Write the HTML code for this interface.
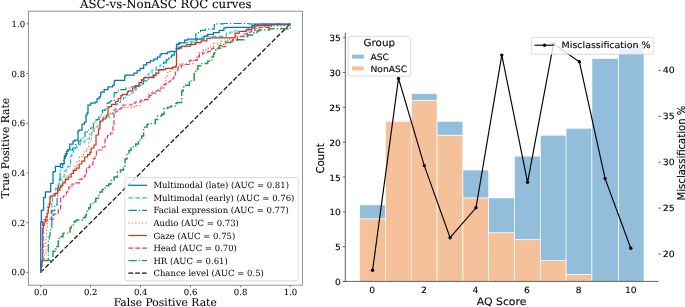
<!DOCTYPE html>
<html><head><meta charset="utf-8"><title>ROC curves</title>
<style>html,body{margin:0;padding:0;background:#fff;overflow:hidden}body{width:685px;height:307px;position:relative}</style>
</head><body>
<svg width="685" height="307" viewBox="0 0 685 307" style="position:absolute;left:0;top:0" text-rendering="geometricPrecision">
<rect width="685" height="307" fill="#fff"/>
<g font-family="'DejaVu Serif','Liberation Serif',serif" fill="#000" stroke="#000" stroke-width="0.06">
<text x="165.7" y="8.4" font-size="11.8" text-anchor="middle">ASC-vs-NonASC ROC curves</text>
<text x="165.2" y="306.1" font-size="10.75" text-anchor="middle">False Positive Rate</text>
<text transform="translate(8.5,148) rotate(-90)" font-size="10.75" text-anchor="middle">True Positive Rate</text>
<text x="40.8" y="294.9" font-size="8.5" text-anchor="middle">0.0</text>
<text x="25.1" y="275.4" font-size="8.5" text-anchor="end">0.0</text>
<path d="M40.6 285.2 v2 M28.4 272.4 h-2" stroke="#333" stroke-width="0.7"/>
<text x="90.7" y="294.9" font-size="8.5" text-anchor="middle">0.2</text>
<text x="25.1" y="225.7" font-size="8.5" text-anchor="end">0.2</text>
<path d="M90.5 285.2 v2 M28.4 222.7 h-2" stroke="#333" stroke-width="0.7"/>
<text x="140.7" y="294.9" font-size="8.5" text-anchor="middle">0.4</text>
<text x="25.1" y="176.0" font-size="8.5" text-anchor="end">0.4</text>
<path d="M140.5 285.2 v2 M28.4 173.0 h-2" stroke="#333" stroke-width="0.7"/>
<text x="190.6" y="294.9" font-size="8.5" text-anchor="middle">0.6</text>
<text x="25.1" y="126.3" font-size="8.5" text-anchor="end">0.6</text>
<path d="M190.4 285.2 v2 M28.4 123.2 h-2" stroke="#333" stroke-width="0.7"/>
<text x="240.6" y="294.9" font-size="8.5" text-anchor="middle">0.8</text>
<text x="25.1" y="76.6" font-size="8.5" text-anchor="end">0.8</text>
<path d="M240.4 285.2 v2 M28.4 73.5 h-2" stroke="#333" stroke-width="0.7"/>
<text x="290.5" y="294.9" font-size="8.5" text-anchor="middle">1.0</text>
<text x="25.1" y="26.9" font-size="8.5" text-anchor="end">1.0</text>
<path d="M290.3 285.2 v2 M28.4 23.8 h-2" stroke="#333" stroke-width="0.7"/>
</g>
<g fill="none" stroke-linejoin="miter">
<path d="M40.6 272.4 L290.3 23.8" stroke="#111" stroke-width="1.25" stroke-dasharray="4.7 2.1"/>
<path d="M40.7 272.4 L40.7 266.0 L41.5 266.0 L42.2 266.0 L42.2 260.0 L43.0 260.0 L43.0 250.0 L43.6 250.0 L43.6 221.0 L43.6 219.8 L46.0 219.8 L46.0 219.4 L51.2 219.4 L51.2 210.0 L51.8 210.0 L51.8 201.2 L52.4 201.2 L52.4 195.4 L53.9 195.4 L53.9 194.2 L55.4 194.2 L55.4 189.5 L55.4 188.3 L57.7 188.3 L58.4 188.3 L58.4 185.0 L59.0 185.0 L59.8 185.0 L59.8 179.0 L60.5 179.0 L62.4 179.0 L62.4 177.0 L64.2 177.0 L64.2 171.1 L64.7 171.1 L66.2 171.1 L66.2 167.6 L67.7 167.6 L67.7 166.4 L70.6 166.4 L70.6 155.9 L71.2 155.9 L71.8 155.9 L71.8 153.5 L72.4 153.5 L73.2 153.5 L73.2 150.0 L74.1 150.0 L74.1 148.0 L75.0 148.0 L76.8 148.0 L76.8 145.0 L78.5 145.0 L80.2 145.0 L80.2 142.0 L82.0 142.0 L85.0 142.0 L85.0 139.0 L88.0 139.0 L89.5 139.0 L89.5 134.0 L91.0 134.0 L92.0 134.0 L92.0 131.5 L93.0 131.5 L94.0 131.5 L94.0 129.0 L95.0 129.0 L96.0 129.0 L96.0 127.0 L97.0 127.0 L98.0 127.0 L98.0 125.0 L99.0 125.0 L100.0 125.0 L100.0 122.0 L101.0 122.0 L102.5 122.0 L102.5 119.5 L104.0 119.5 L105.5 119.5 L105.5 117.0 L107.0 117.0 L109.5 117.0 L109.5 114.0 L112.0 114.0 L113.0 114.0 L113.0 110.0 L114.0 110.0 L115.0 110.0 L115.0 105.0 L116.0 105.0 L117.5 105.0 L117.5 102.5 L119.0 102.5 L120.5 102.5 L120.5 100.0 L122.0 100.0 L123.5 100.0 L123.5 97.5 L125.0 97.5 L126.5 97.5 L126.5 95.0 L128.0 95.0 L130.0 95.0 L130.0 93.0 L132.0 93.0 L133.4 93.0 L133.4 89.8 L134.8 89.8 L136.2 89.8 L136.2 86.6 L137.6 86.6 L139.0 86.6 L139.0 83.4 L140.4 83.4 L141.8 83.4 L141.8 80.2 L143.2 80.2 L144.6 80.2 L144.6 77.0 L146.0 77.0 L147.0 77.0 L147.0 75.0 L148.0 75.0 L149.0 75.0 L149.0 73.0 L150.0 73.0 L152.0 73.0 L152.0 70.0 L154.0 70.0 L156.0 70.0 L156.0 67.0 L158.0 67.0 L160.0 67.0 L160.0 65.0 L162.0 65.0 L163.5 65.0 L163.5 62.0 L165.0 62.0 L166.3 62.0 L166.3 59.7 L167.7 59.7 L169.0 59.7 L169.0 57.3 L170.3 57.3 L171.7 57.3 L171.7 55.0 L173.0 55.0 L174.0 55.0 L174.0 52.0 L175.0 52.0 L176.0 52.0 L176.0 49.0 L177.0 49.0 L178.0 49.0 L178.0 43.5 L179.0 43.5 L179.0 42.5 L185.0 42.5 L190.0 42.5 L190.0 41.3 L195.0 41.3 L197.0 41.3 L197.0 38.5 L199.0 38.5 L202.0 38.5 L202.0 37.0 L205.0 37.0 L205.0 36.3 L226.3 36.3 L226.3 33.2 L227.5 33.2 L230.4 33.2 L230.4 32.0 L233.3 32.0 L233.3 31.0 L245.0 31.0 L248.0 31.0 L248.0 28.2 L251.0 28.2 L254.0 28.2 L254.0 26.2 L257.0 26.2 L257.0 25.0 L269.0 25.0 L269.0 24.0 L290.5 24.0" stroke="#33BBEE" stroke-width="1.2" stroke-dasharray="4.8 2.1"/>
<path d="M40.7 272.4 L40.7 260.5 L40.9 260.5 L48.3 260.5 L48.3 240.2 L49.2 240.2 L49.2 236.0 L50.1 236.0 L50.1 230.2 L50.7 230.2 L50.7 229.0 L51.8 229.0 L51.8 221.8 L51.8 211.2 L52.4 211.2 L52.4 210.6 L54.8 210.6 L54.8 206.0 L55.4 206.0 L55.4 204.8 L57.1 204.8 L57.1 196.6 L57.7 196.6 L57.7 188.3 L58.3 188.3 L58.3 185.2 L58.9 185.2 L58.9 180.5 L60.0 180.5 L60.0 173.5 L60.6 173.5 L60.6 167.6 L61.8 167.6 L62.7 167.6 L62.7 164.0 L63.6 164.0 L63.6 160.6 L64.2 160.6 L65.3 160.6 L65.3 153.5 L66.5 153.5 L67.4 153.5 L67.4 151.2 L68.3 151.2 L68.3 150.0 L71.2 150.0 L72.6 150.0 L72.6 148.0 L74.0 148.0 L75.5 148.0 L75.5 144.5 L77.0 144.5 L78.5 144.5 L78.5 141.0 L80.0 141.0 L81.0 141.0 L81.0 139.0 L82.0 139.0 L83.0 139.0 L83.0 137.0 L84.0 137.0 L85.0 137.0 L85.0 132.0 L86.0 132.0 L87.5 132.0 L87.5 130.0 L89.0 130.0 L90.5 130.0 L90.5 128.0 L92.0 128.0 L93.5 128.0 L93.5 122.0 L95.0 122.0 L96.2 122.0 L96.2 119.5 L97.5 119.5 L98.8 119.5 L98.8 117.0 L100.0 117.0 L101.2 117.0 L101.2 113.8 L102.4 113.8 L102.4 110.3 L103.6 110.3 L105.0 110.3 L105.0 109.1 L106.5 109.1 L107.1 109.1 L107.1 103.2 L107.7 103.2 L109.2 103.2 L109.2 102.0 L110.6 102.0 L110.6 100.9 L114.2 100.9 L114.2 93.2 L114.7 93.2 L114.7 92.7 L118.3 92.7 L118.3 89.7 L118.8 89.7 L124.7 89.7 L125.9 89.7 L125.9 88.0 L127.1 88.0 L130.0 88.0 L130.0 86.8 L132.9 86.8 L135.2 86.8 L135.2 85.6 L137.6 85.6 L140.6 85.6 L140.6 83.9 L143.5 83.9 L143.5 80.9 L144.7 80.9 L147.0 80.9 L147.0 79.2 L149.3 79.2 L149.3 77.0 L150.0 77.0 L153.0 77.0 L153.0 75.0 L156.0 75.0 L156.0 71.0 L156.0 70.0 L162.0 70.0 L163.5 70.0 L163.5 63.0 L165.0 63.0 L166.2 63.0 L166.2 60.1 L167.5 60.1 L168.8 60.1 L168.8 57.3 L170.0 57.3 L171.5 57.3 L171.5 55.2 L172.9 55.2 L174.4 55.2 L174.4 53.2 L175.9 53.2 L175.9 48.5 L177.0 48.5 L181.1 48.5 L181.1 46.7 L185.2 46.7 L186.4 46.7 L186.4 44.4 L187.6 44.4 L191.7 44.4 L191.7 42.6 L195.8 42.6 L195.8 33.8 L196.4 33.8 L198.4 33.8 L198.4 31.5 L200.5 31.5 L200.5 30.3 L205.2 30.3 L205.2 29.1 L213.4 29.1 L214.3 29.1 L214.3 24.6 L215.2 24.6 L215.2 23.8 L223.0 23.8 L223.0 23.5 L249.0 23.5 L249.0 24.0 L290.5 24.0" stroke="#009988" stroke-width="1.2" stroke-dasharray="8.3 2.1 1.3 2.1"/>
<path d="M40.7 272.4 L42.2 272.4 L42.2 259.0 L43.7 259.0 L44.5 259.0 L44.5 253.7 L45.4 253.7 L46.0 253.7 L46.0 239.6 L46.6 239.6 L46.6 227.9 L47.1 227.9 L47.1 222.0 L47.5 222.0 L47.5 213.0 L47.5 206.0 L48.2 206.0 L48.2 202.0 L49.4 202.0 L49.4 196.3 L50.0 196.3 L50.0 195.2 L53.0 195.2 L54.5 195.2 L54.5 192.8 L56.0 192.8 L57.1 192.8 L57.1 189.3 L58.3 189.3 L59.5 189.3 L59.5 186.4 L60.6 186.4 L60.6 184.4 L61.4 184.4 L62.7 184.4 L62.7 181.0 L64.0 181.0 L65.8 181.0 L65.8 175.8 L67.7 175.8 L69.5 175.8 L69.5 173.5 L71.2 173.5 L72.4 173.5 L72.4 169.3 L73.6 169.3 L74.7 169.3 L74.7 165.2 L75.9 165.2 L77.1 165.2 L77.1 161.7 L78.2 161.7 L79.4 161.7 L79.4 157.0 L80.6 157.0 L81.8 157.0 L81.8 154.7 L82.9 154.7 L84.1 154.7 L84.1 151.2 L85.3 151.2 L86.3 151.2 L86.3 149.0 L87.3 149.0 L88.7 149.0 L88.7 141.0 L90.0 141.0 L91.5 141.0 L91.5 131.0 L93.0 131.0 L93.0 123.0 L94.0 123.0 L96.0 123.0 L96.0 121.0 L98.0 121.0 L99.5 121.0 L99.5 119.0 L101.0 119.0 L102.5 119.0 L102.5 117.0 L104.0 117.0 L106.0 117.0 L106.0 115.0 L108.0 115.0 L110.0 115.0 L110.0 113.0 L112.0 113.0 L113.4 113.0 L113.4 111.0 L114.8 111.0 L116.3 111.0 L116.3 109.1 L117.7 109.1 L121.8 109.1 L121.8 107.3 L125.9 107.3 L130.6 107.3 L134.1 107.3 L134.1 105.6 L137.6 105.6 L139.9 105.6 L139.9 102.0 L142.3 102.0 L144.7 102.0 L144.7 99.1 L147.0 99.1 L148.4 99.1 L148.4 94.4 L149.9 94.4 L151.9 94.4 L151.9 91.5 L154.0 91.5 L156.3 91.5 L156.3 89.7 L158.7 89.7 L160.4 89.7 L160.4 86.2 L162.2 86.2 L163.4 86.2 L163.4 83.3 L164.6 83.3 L165.3 83.3 L165.3 80.3 L166.0 80.3 L166.0 76.0 L166.5 76.0 L167.7 76.0 L167.7 71.3 L168.8 71.3 L171.8 71.3 L171.8 68.4 L174.7 68.4 L176.0 68.4 L176.0 66.3 L177.3 66.3 L178.7 66.3 L178.7 64.3 L180.0 64.3 L180.0 63.7 L191.0 63.7 L192.8 63.7 L192.8 60.8 L194.6 60.8 L195.8 60.8 L195.8 57.2 L197.0 57.2 L198.8 57.2 L198.8 52.6 L200.5 52.6 L203.4 52.6 L203.4 49.6 L206.4 49.6 L208.2 49.6 L208.2 47.0 L209.9 47.0 L213.4 47.0 L213.4 43.8 L216.9 43.8 L220.4 43.8 L220.4 41.4 L224.0 41.4 L227.5 41.4 L227.5 39.1 L231.0 39.1 L233.3 39.1 L233.3 37.3 L235.7 37.3 L235.7 36.1 L242.7 36.1 L246.3 36.1 L246.3 33.2 L250.0 33.2 L250.0 32.5 L253.0 32.5 L255.0 32.5 L255.0 30.0 L257.0 30.0 L260.0 30.0 L260.0 27.5 L263.0 27.5 L263.0 26.3 L273.0 26.3 L273.0 25.8 L285.0 25.8 L290.3 25.8 L290.3 24.0 L290.5 24.0" stroke="#EE7733" stroke-width="1.2" stroke-dasharray="1.3 2.1"/>
<path d="M40.7 272.4 L40.7 266.0 L41.5 266.0 L41.5 262.0 L42.5 262.0 L42.5 232.0 L42.5 228.0 L43.4 228.0 L43.4 225.5 L44.2 225.5 L44.2 222.0 L45.4 222.0 L45.4 221.8 L46.0 221.8 L46.0 216.5 L47.1 216.5 L47.1 213.0 L48.3 213.0 L48.3 207.1 L48.9 207.1 L49.5 207.1 L49.5 203.6 L50.1 203.6 L50.1 197.1 L50.7 197.1 L50.7 196.0 L53.6 196.0 L55.0 196.0 L55.0 193.6 L56.5 193.6 L57.7 193.6 L57.7 190.1 L58.9 190.1 L60.0 190.1 L60.0 187.2 L61.2 187.2 L61.2 185.8 L62.7 185.8 L62.7 182.8 L64.2 182.8 L65.3 182.8 L65.3 179.3 L66.5 179.3 L68.2 179.3 L68.2 177.0 L70.0 177.0 L71.2 177.0 L71.2 173.5 L72.4 173.5 L73.6 173.5 L73.6 170.5 L74.7 170.5 L76.2 170.5 L76.2 168.2 L77.6 168.2 L79.1 168.2 L79.1 164.0 L80.6 164.0 L81.8 164.0 L81.8 161.1 L82.9 161.1 L84.7 161.1 L84.7 157.0 L86.4 157.0 L87.6 157.0 L87.6 154.7 L88.8 154.7 L89.9 154.7 L89.9 152.3 L91.1 152.3 L91.1 148.0 L92.0 148.0 L94.0 148.0 L94.0 145.0 L96.0 145.0 L96.0 135.0 L97.0 135.0 L98.5 135.0 L98.5 129.0 L100.0 129.0 L100.0 121.0 L101.0 121.0 L103.0 121.0 L103.0 118.0 L105.0 118.0 L106.5 118.0 L106.5 115.0 L108.0 115.0 L108.0 108.0 L108.9 108.0 L108.9 106.7 L111.6 106.7 L111.6 104.4 L114.2 104.4 L115.7 104.4 L115.7 101.5 L117.1 101.5 L118.2 101.5 L118.2 98.5 L119.4 98.5 L120.9 98.5 L120.9 95.6 L122.4 95.6 L122.4 94.4 L126.5 94.4 L127.3 94.4 L127.3 92.1 L128.2 92.1 L128.2 90.9 L131.7 90.9 L132.6 90.9 L132.6 88.0 L133.5 88.0 L135.6 88.0 L135.6 86.2 L137.6 86.2 L139.1 86.2 L139.1 82.7 L140.5 82.7 L141.4 82.7 L141.4 79.8 L142.3 79.8 L143.5 79.8 L143.5 78.0 L144.7 78.0 L144.7 77.6 L153.0 77.6 L154.0 77.6 L154.0 75.3 L155.1 75.3 L156.1 75.3 L156.1 73.1 L157.1 73.1 L158.8 73.1 L158.8 69.6 L160.6 69.6 L165.3 69.6 L165.3 68.4 L170.0 68.4 L172.3 68.4 L172.3 67.2 L174.7 67.2 L175.6 67.2 L175.6 66.0 L176.5 66.0 L176.5 48.8 L177.0 48.8 L179.3 48.8 L179.3 47.3 L181.7 47.3 L181.7 46.1 L187.6 46.1 L190.6 46.1 L190.6 44.4 L193.5 44.4 L195.8 44.4 L195.8 42.6 L198.2 42.6 L201.1 42.6 L201.1 40.9 L204.0 40.9 L206.9 40.9 L206.9 38.5 L209.9 38.5 L209.9 37.9 L227.5 37.9 L235.1 37.9 L235.1 33.2 L235.7 33.2 L239.2 33.2 L239.2 31.5 L242.7 31.5 L246.3 31.5 L246.3 29.7 L250.0 29.7 L251.8 29.7 L251.8 27.2 L253.5 27.2 L255.0 27.2 L255.0 25.9 L256.5 25.9 L256.5 25.7 L271.1 25.7 L271.1 24.8 L271.7 24.8 L271.7 24.6 L290.5 24.6" stroke="#CC3311" stroke-width="1.2"/>
<path d="M40.7 272.4 L40.7 266.0 L41.5 266.0 L41.5 262.0 L42.5 262.0 L42.5 228.0 L42.5 221.0 L43.0 221.0 L43.0 220.0 L46.0 220.0 L46.0 219.4 L52.4 219.4 L53.0 219.4 L53.0 215.3 L53.6 215.3 L53.6 214.2 L58.3 214.2 L58.3 209.5 L58.9 209.5 L58.9 208.9 L60.6 208.9 L60.6 197.7 L61.2 197.7 L63.2 197.7 L63.2 196.0 L65.3 196.0 L66.5 196.0 L66.5 191.9 L67.7 191.9 L68.8 191.9 L68.8 187.2 L70.0 187.2 L72.0 187.2 L72.0 184.0 L74.1 184.0 L74.1 182.8 L79.4 182.8 L79.4 179.3 L80.6 179.3 L82.0 179.3 L82.0 177.0 L83.5 177.0 L85.0 177.0 L85.0 175.2 L86.4 175.2 L86.4 167.6 L87.0 167.6 L89.7 167.6 L89.7 164.7 L92.3 164.7 L92.9 164.7 L92.9 158.8 L93.5 158.8 L95.0 158.8 L95.0 155.9 L96.4 155.9 L96.4 151.2 L97.0 151.2 L97.0 150.0 L99.9 150.0 L102.5 150.0 L102.5 147.0 L105.0 147.0 L105.0 138.0 L106.0 138.0 L107.5 138.0 L107.5 135.5 L109.0 135.5 L110.5 135.5 L110.5 133.0 L112.0 133.0 L113.0 133.0 L113.0 125.0 L114.0 125.0 L114.0 113.0 L115.8 113.0 L115.8 111.0 L117.5 111.0 L119.2 111.0 L119.2 109.0 L121.0 109.0 L121.0 107.9 L121.2 107.9 L123.0 107.9 L123.0 105.0 L124.7 105.0 L130.6 105.0 L131.8 105.0 L131.8 103.2 L132.9 103.2 L135.2 103.2 L135.2 102.0 L137.6 102.0 L140.6 102.0 L140.6 100.3 L143.5 100.3 L143.5 99.7 L149.3 99.7 L149.3 95.6 L149.9 95.6 L151.9 95.6 L151.9 93.2 L154.0 93.2 L156.3 93.2 L156.3 90.9 L158.7 90.9 L160.4 90.9 L160.4 88.0 L162.2 88.0 L164.1 88.0 L164.1 84.5 L166.0 84.5 L166.0 82.0 L167.0 82.0 L170.2 82.0 L170.2 79.0 L173.5 79.0 L173.5 77.2 L174.1 77.2 L175.3 77.2 L175.3 72.0 L176.5 72.0 L177.9 72.0 L177.9 67.8 L179.4 67.8 L181.2 67.8 L181.2 65.2 L183.0 65.2 L183.0 64.5 L188.3 64.5 L189.2 64.5 L189.2 61.0 L190.0 61.0 L190.0 60.4 L196.0 60.4 L197.2 60.4 L197.2 56.8 L198.3 56.8 L199.4 56.8 L199.4 54.3 L200.5 54.3 L202.8 54.3 L202.8 53.0 L205.2 53.0 L207.8 53.0 L207.8 51.3 L210.5 51.3 L211.9 51.3 L211.9 48.5 L213.4 48.5 L213.4 48.2 L216.9 48.2 L221.0 48.2 L221.0 46.7 L225.1 46.7 L225.7 46.7 L225.7 42.6 L226.3 42.6 L226.3 42.0 L231.0 42.0 L232.8 42.0 L232.8 40.2 L234.5 40.2 L237.4 40.2 L237.4 36.7 L240.4 36.7 L242.8 36.7 L242.8 33.8 L245.1 33.8 L247.6 33.8 L247.6 32.0 L250.0 32.0 L251.5 32.0 L251.5 30.5 L253.0 30.5 L254.8 30.5 L254.8 28.1 L256.5 28.1 L256.5 27.5 L263.0 27.5 L270.0 27.5 L270.0 25.9 L271.1 25.9 L271.1 25.0 L278.2 25.0 L278.2 24.6 L290.5 24.6" stroke="#EE3377" stroke-width="1.2" stroke-dasharray="4.8 2.1"/>
<path d="M40.7 272.4 L40.7 260.5 L40.9 260.5 L53.0 260.5 L53.0 251.3 L53.6 251.3 L55.4 251.3 L55.4 249.0 L57.1 249.0 L57.1 246.6 L58.3 246.6 L58.3 239.6 L59.1 239.6 L59.1 237.2 L60.0 237.2 L60.0 236.7 L63.0 236.7 L63.0 233.7 L63.6 233.7 L63.6 233.1 L70.0 233.1 L70.0 227.9 L71.2 227.9 L71.2 224.9 L72.4 224.9 L74.2 224.9 L74.2 221.5 L75.9 221.5 L75.9 220.6 L76.5 220.6 L76.5 220.0 L80.6 220.0 L82.3 220.0 L82.3 217.7 L84.1 217.7 L85.2 217.7 L85.2 215.9 L86.4 215.9 L86.4 211.2 L87.0 211.2 L88.8 211.2 L88.8 207.7 L90.5 207.7 L90.5 204.2 L91.1 204.2 L92.9 204.2 L92.9 201.8 L94.7 201.8 L95.8 201.8 L95.8 198.3 L97.0 198.3 L98.5 198.3 L98.5 195.4 L99.9 195.4 L99.9 191.9 L100.5 191.9 L102.2 191.9 L102.2 189.5 L104.0 189.5 L105.2 189.5 L105.2 185.8 L106.4 185.8 L108.8 185.8 L108.8 184.0 L111.1 184.0 L111.1 180.5 L111.7 180.5 L111.7 179.9 L114.0 179.9 L114.0 177.5 L114.5 177.5 L114.5 177.0 L116.0 177.0 L117.5 177.0 L117.5 172.0 L119.0 172.0 L120.5 172.0 L120.5 170.0 L122.0 170.0 L123.5 170.0 L123.5 168.0 L125.0 168.0 L125.0 166.0 L125.0 159.0 L126.0 159.0 L127.0 159.0 L127.0 153.0 L128.0 153.0 L129.0 153.0 L129.0 150.5 L130.0 150.5 L131.0 150.5 L131.0 148.0 L132.0 148.0 L133.2 148.0 L133.2 146.0 L134.5 146.0 L135.8 146.0 L135.8 144.0 L137.0 144.0 L138.5 144.0 L138.5 140.0 L140.0 140.0 L141.8 140.0 L141.8 136.0 L143.6 136.0 L143.6 127.1 L144.2 127.1 L147.1 127.1 L147.1 124.2 L150.0 124.2 L150.0 123.6 L154.7 123.6 L155.3 123.6 L155.3 119.5 L155.9 119.5 L157.7 119.5 L157.7 115.9 L159.4 115.9 L161.8 115.9 L161.8 114.2 L164.1 114.2 L164.1 108.3 L164.7 108.3 L167.9 108.3 L167.9 107.1 L171.1 107.1 L171.1 106.0 L174.7 106.0 L175.8 106.0 L175.8 103.6 L177.0 103.6 L177.0 102.5 L181.7 102.5 L181.7 91.0 L182.3 91.0 L183.2 91.0 L183.2 87.0 L184.0 87.0 L185.8 87.0 L185.8 85.2 L187.7 85.2 L189.4 85.2 L189.4 81.7 L191.2 81.7 L191.2 81.1 L194.2 81.1 L194.2 73.5 L194.8 73.5 L195.7 73.5 L195.7 69.4 L196.5 69.4 L198.0 69.4 L198.0 65.8 L199.5 65.8 L201.8 65.8 L201.8 63.5 L204.2 63.5 L207.7 63.5 L207.7 61.1 L211.2 61.1 L211.8 61.1 L211.8 57.0 L212.4 57.0 L213.6 57.0 L213.6 53.5 L214.7 53.5 L214.7 50.0 L215.3 50.0 L216.1 50.0 L216.1 48.5 L216.9 48.5 L219.2 48.5 L219.2 45.5 L221.6 45.5 L223.9 45.5 L223.9 42.6 L226.3 42.6 L231.0 42.6 L231.0 39.7 L231.6 39.7 L243.9 39.7 L243.9 36.7 L245.1 36.7 L247.6 36.7 L247.6 35.0 L250.0 35.0 L252.5 35.0 L252.5 33.0 L255.0 33.0 L257.0 33.0 L257.0 31.0 L259.0 31.0 L259.0 30.0 L269.0 30.0 L269.0 28.8 L277.0 28.8 L290.3 28.8 L290.3 24.0 L290.5 24.0" stroke="#229944" stroke-width="1.45" stroke-dasharray="8.3 2.1 1.3 2.1"/>
<path d="M40.7 272.4 L40.7 222.0 L41.3 222.0 L41.3 210.6 L41.9 210.6 L41.9 210.0 L43.6 210.0 L43.6 198.3 L43.6 197.7 L45.4 197.7 L45.4 192.5 L45.4 191.9 L50.7 191.9 L50.7 184.0 L50.7 183.4 L53.0 183.4 L53.0 172.3 L53.6 172.3 L53.6 171.7 L55.4 171.7 L55.4 167.6 L55.4 166.4 L59.5 166.4 L60.4 166.4 L60.4 164.0 L61.2 164.0 L61.2 163.5 L64.2 163.5 L64.2 157.0 L64.7 157.0 L64.7 155.9 L66.5 155.9 L66.5 151.2 L67.1 151.2 L67.8 151.2 L67.8 149.5 L68.5 149.5 L69.8 149.5 L69.8 144.0 L71.0 144.0 L73.0 144.0 L73.0 141.0 L75.0 141.0 L75.0 140.0 L78.0 140.0 L78.0 131.0 L79.0 131.0 L79.0 130.0 L82.0 130.0 L82.0 124.0 L83.0 124.0 L84.5 124.0 L84.5 122.0 L86.0 122.0 L86.0 115.0 L87.0 115.0 L87.0 113.0 L88.0 113.0 L88.0 105.0 L88.3 105.0 L90.7 105.0 L90.7 103.2 L93.0 103.2 L95.0 103.2 L95.0 102.0 L97.1 102.0 L97.1 98.5 L97.7 98.5 L99.2 98.5 L99.2 96.8 L100.7 96.8 L100.7 93.2 L101.2 93.2 L101.2 92.1 L104.2 92.1 L104.2 89.7 L104.8 89.7 L108.0 89.7 L108.0 86.8 L111.2 86.8 L112.7 86.8 L112.7 85.0 L114.2 85.0 L114.2 80.9 L115.3 80.9 L115.3 80.3 L124.7 80.3 L124.7 76.0 L125.5 76.0 L125.5 75.0 L132.0 75.0 L134.0 75.0 L134.0 73.1 L136.0 73.1 L137.2 73.1 L137.2 70.7 L138.3 70.7 L140.1 70.7 L140.1 68.4 L141.9 68.4 L143.7 68.4 L143.7 64.9 L145.4 64.9 L146.6 64.9 L146.6 62.5 L147.7 62.5 L150.3 62.5 L150.3 60.8 L153.0 60.8 L153.9 60.8 L153.9 59.0 L154.8 59.0 L157.4 59.0 L157.4 57.2 L160.0 57.2 L160.0 54.9 L161.2 54.9 L161.2 53.7 L164.7 53.7 L167.3 53.7 L167.3 52.2 L170.0 52.2 L170.0 51.4 L176.5 51.4 L176.5 44.4 L177.0 44.4 L179.3 44.4 L179.3 42.8 L181.7 42.8 L184.6 42.8 L184.6 40.2 L187.6 40.2 L187.6 39.1 L202.8 39.1 L204.0 39.1 L204.0 36.1 L205.2 36.1 L207.6 36.1 L207.6 34.4 L209.9 34.4 L213.4 34.4 L213.4 32.6 L216.9 32.6 L219.2 32.6 L219.2 30.3 L221.6 30.3 L223.9 30.3 L223.9 27.9 L226.3 27.9 L226.3 27.3 L249.0 27.3 L252.0 27.3 L252.0 25.3 L255.0 25.3 L255.0 24.2 L269.0 24.2 L269.0 24.0 L290.5 24.0" stroke="#0077BB" stroke-width="1.25"/>
</g>
<rect x="28.4" y="11.2" width="274.1" height="274.0" fill="none" stroke="#7c7c7c" stroke-width="0.8"/>
<rect x="124.9" y="177.6" width="173.4" height="103.2" rx="2" fill="#fff" fill-opacity="0.8" stroke="#ccc" stroke-width="0.7"/>
<g font-family="'DejaVu Serif','Liberation Serif',serif" font-size="8.5" fill="#000" stroke="none">
<path d="M128.4 185.3 H147" stroke="#0077BB" stroke-width="1.25" fill="none"/>
<text x="153.4" y="188.3">Multimodal (late) (AUC = 0.81)</text>
<path d="M128.4 197.9 H147" stroke="#33BBEE" stroke-width="1.2" fill="none" stroke-dasharray="4.8 2.1"/>
<text x="153.4" y="200.9">Multimodal (early) (AUC = 0.76)</text>
<path d="M128.4 210.4 H147" stroke="#009988" stroke-width="1.2" fill="none" stroke-dasharray="8.3 2.1 1.3 2.1"/>
<text x="153.4" y="213.4">Facial expression (AUC = 0.77)</text>
<path d="M128.4 223.0 H147" stroke="#EE7733" stroke-width="1.2" fill="none" stroke-dasharray="1.3 2.1"/>
<text x="153.4" y="226.0">Audio (AUC = 0.73)</text>
<path d="M128.4 235.5 H147" stroke="#CC3311" stroke-width="1.2" fill="none"/>
<text x="153.4" y="238.5">Gaze (AUC = 0.75)</text>
<path d="M128.4 248.1 H147" stroke="#EE3377" stroke-width="1.2" fill="none" stroke-dasharray="4.8 2.1"/>
<text x="153.4" y="251.1">Head (AUC = 0.70)</text>
<path d="M128.4 260.6 H147" stroke="#229944" stroke-width="1.45" fill="none" stroke-dasharray="8.3 2.1 1.3 2.1"/>
<text x="153.4" y="263.6">HR (AUC = 0.61)</text>
<path d="M128.4 273.2 H147" stroke="#111" stroke-width="1.25" fill="none" stroke-dasharray="4.7 2.1"/>
<text x="153.4" y="276.2">Chance level (AUC = 0.5)</text>
</g>
<g stroke="#fff" stroke-width="0.65">
<rect x="359.70" y="218.81" width="25.80" height="62.69" fill="#F5C19B"/>
<rect x="359.70" y="204.87" width="25.80" height="13.93" fill="#92BEDC"/>
<rect x="385.50" y="121.28" width="25.80" height="160.22" fill="#F5C19B"/>
<rect x="411.30" y="100.38" width="25.80" height="181.12" fill="#F5C19B"/>
<rect x="411.30" y="93.42" width="25.80" height="6.97" fill="#92BEDC"/>
<rect x="437.10" y="135.21" width="25.80" height="146.29" fill="#F5C19B"/>
<rect x="437.10" y="121.28" width="25.80" height="13.93" fill="#92BEDC"/>
<rect x="462.90" y="197.91" width="25.80" height="83.59" fill="#F5C19B"/>
<rect x="462.90" y="170.04" width="25.80" height="27.86" fill="#92BEDC"/>
<rect x="488.70" y="232.74" width="25.80" height="48.76" fill="#F5C19B"/>
<rect x="488.70" y="197.91" width="25.80" height="34.83" fill="#92BEDC"/>
<rect x="514.50" y="239.70" width="25.80" height="41.80" fill="#F5C19B"/>
<rect x="514.50" y="156.11" width="25.80" height="83.59" fill="#92BEDC"/>
<rect x="540.30" y="260.60" width="25.80" height="20.90" fill="#F5C19B"/>
<rect x="540.30" y="135.21" width="25.80" height="125.39" fill="#92BEDC"/>
<rect x="566.10" y="274.53" width="25.80" height="6.97" fill="#F5C19B"/>
<rect x="566.10" y="128.25" width="25.80" height="146.29" fill="#92BEDC"/>
<rect x="591.90" y="58.59" width="26.50" height="222.91" fill="#92BEDC"/>
<rect x="618.40" y="44.66" width="25.60" height="236.84" fill="#92BEDC"/>
</g>
<path d="M345.3 32.6 V281.4 M342.9 281.4 H658.5" fill="none" stroke="#505050" stroke-width="0.9"/>
<g font-family="'DejaVu Sans','Liberation Sans',sans-serif" fill="#000" stroke="#000" stroke-width="0.1">
<path d="M345.3 281.5 h-2.4" stroke="#444" stroke-width="0.8"/>
<text transform="translate(340.80,285.05) scale(1.065,1)" font-size="8.6" text-anchor="end">0</text>
<path d="M345.3 246.7 h-2.4" stroke="#444" stroke-width="0.8"/>
<text transform="translate(340.80,250.22) scale(1.065,1)" font-size="8.6" text-anchor="end">5</text>
<path d="M345.3 211.8 h-2.4" stroke="#444" stroke-width="0.8"/>
<text transform="translate(340.80,215.39) scale(1.065,1)" font-size="8.6" text-anchor="end">10</text>
<path d="M345.3 177.0 h-2.4" stroke="#444" stroke-width="0.8"/>
<text transform="translate(340.80,180.56) scale(1.065,1)" font-size="8.6" text-anchor="end">15</text>
<path d="M345.3 142.2 h-2.4" stroke="#444" stroke-width="0.8"/>
<text transform="translate(340.80,145.73) scale(1.065,1)" font-size="8.6" text-anchor="end">20</text>
<path d="M345.3 107.3 h-2.4" stroke="#444" stroke-width="0.8"/>
<text transform="translate(340.80,110.90) scale(1.065,1)" font-size="8.6" text-anchor="end">25</text>
<path d="M345.3 72.5 h-2.4" stroke="#444" stroke-width="0.8"/>
<text transform="translate(340.80,76.07) scale(1.065,1)" font-size="8.6" text-anchor="end">30</text>
<path d="M345.3 37.7 h-2.4" stroke="#444" stroke-width="0.8"/>
<text transform="translate(340.80,41.24) scale(1.065,1)" font-size="8.6" text-anchor="end">35</text>
<text transform="translate(372.20,292.90) scale(1.065,1)" font-size="8.6" text-anchor="middle">0</text>
<text transform="translate(423.80,292.90) scale(1.065,1)" font-size="8.6" text-anchor="middle">2</text>
<text transform="translate(475.40,292.90) scale(1.065,1)" font-size="8.6" text-anchor="middle">4</text>
<text transform="translate(527.00,292.90) scale(1.065,1)" font-size="8.6" text-anchor="middle">6</text>
<text transform="translate(578.60,292.90) scale(1.065,1)" font-size="8.6" text-anchor="middle">8</text>
<text transform="translate(630.70,292.90) scale(1.065,1)" font-size="8.6" text-anchor="middle">10</text>
<path d="M658.4 254.0 h2.5" stroke="#333" stroke-width="0.8"/>
<text transform="translate(662.80,256.70) scale(1.090,1)" font-size="8.6" text-anchor="start">20</text>
<path d="M658.4 208.1 h2.5" stroke="#333" stroke-width="0.8"/>
<text transform="translate(662.80,210.80) scale(1.090,1)" font-size="8.6" text-anchor="start">25</text>
<path d="M658.4 162.2 h2.5" stroke="#333" stroke-width="0.8"/>
<text transform="translate(662.80,164.90) scale(1.090,1)" font-size="8.6" text-anchor="start">30</text>
<path d="M658.4 116.3 h2.5" stroke="#333" stroke-width="0.8"/>
<text transform="translate(662.80,119.00) scale(1.090,1)" font-size="8.6" text-anchor="start">35</text>
<path d="M658.4 70.4 h2.5" stroke="#333" stroke-width="0.8"/>
<text transform="translate(662.80,73.10) scale(1.090,1)" font-size="8.6" text-anchor="start">40</text>
<text transform="translate(501.60,305.10) scale(1.065,1)" font-size="10.2" text-anchor="middle">AQ Score</text>
<text transform="translate(323.70,158.40) rotate(-90) scale(1,1.065)" font-size="10.2" text-anchor="middle">Count</text>
<text transform="translate(685.10,153.00) rotate(-90) scale(1,1.065)" font-size="10.1" text-anchor="middle">Misclassification %</text>
</g>
<path d="M372.6 270.2 L398.5 78.4 L424.3 165.6 L450.1 237.7 L476.0 207.8 L501.8 55.1 L527.6 182.3 L553.5 43.9 L579.4 61.8 L605.1 178.6 L630.8 248.3" fill="none" stroke="#000" stroke-width="1.15"/>
<circle cx="372.6" cy="270.2" r="1.7" fill="#000"/>
<circle cx="398.5" cy="78.4" r="1.7" fill="#000"/>
<circle cx="424.3" cy="165.6" r="1.7" fill="#000"/>
<circle cx="450.1" cy="237.7" r="1.7" fill="#000"/>
<circle cx="476.0" cy="207.8" r="1.7" fill="#000"/>
<circle cx="501.8" cy="55.1" r="1.7" fill="#000"/>
<circle cx="527.6" cy="182.3" r="1.7" fill="#000"/>
<circle cx="553.5" cy="43.9" r="1.7" fill="#000"/>
<circle cx="579.4" cy="61.8" r="1.7" fill="#000"/>
<circle cx="605.1" cy="178.6" r="1.7" fill="#000"/>
<circle cx="630.8" cy="248.3" r="1.7" fill="#000"/>
<g font-family="'DejaVu Sans','Liberation Sans',sans-serif" fill="#000" stroke="#000" stroke-width="0.1">
<rect x="348.3" y="36.3" width="62.3" height="39.8" rx="2" fill="#fff" fill-opacity="0.8" stroke="#ccc" stroke-width="0.7"/>
<text transform="translate(379.30,46.30) scale(1.065,1)" font-size="9.7" text-anchor="middle">Group</text>
<rect x="351.8" y="54.6" width="12" height="4" fill="#92BEDC" stroke="none"/>
<rect x="351.8" y="66.4" width="12" height="4" fill="#F5C19B" stroke="none"/>
<text transform="translate(370.40,59.80) scale(1.065,1)" font-size="8.65" text-anchor="start">ASC</text>
<text transform="translate(370.40,71.60) scale(1.065,1)" font-size="8.65" text-anchor="start">NonASC</text>
<rect x="531.4" y="37.4" width="122.3" height="16.9" rx="2" fill="#fff" fill-opacity="0.8" stroke="#ccc" stroke-width="0.7"/>
<path d="M534.5 45.2 H553.8" stroke="#000" stroke-width="1.15"/><circle cx="544.5" cy="45.2" r="1.7" fill="#000" stroke="none"/>
<text transform="translate(561.60,47.90) scale(1.065,1)" font-size="8.9" text-anchor="start">Misclassification %</text>
</g>
</svg>
</body></html>
